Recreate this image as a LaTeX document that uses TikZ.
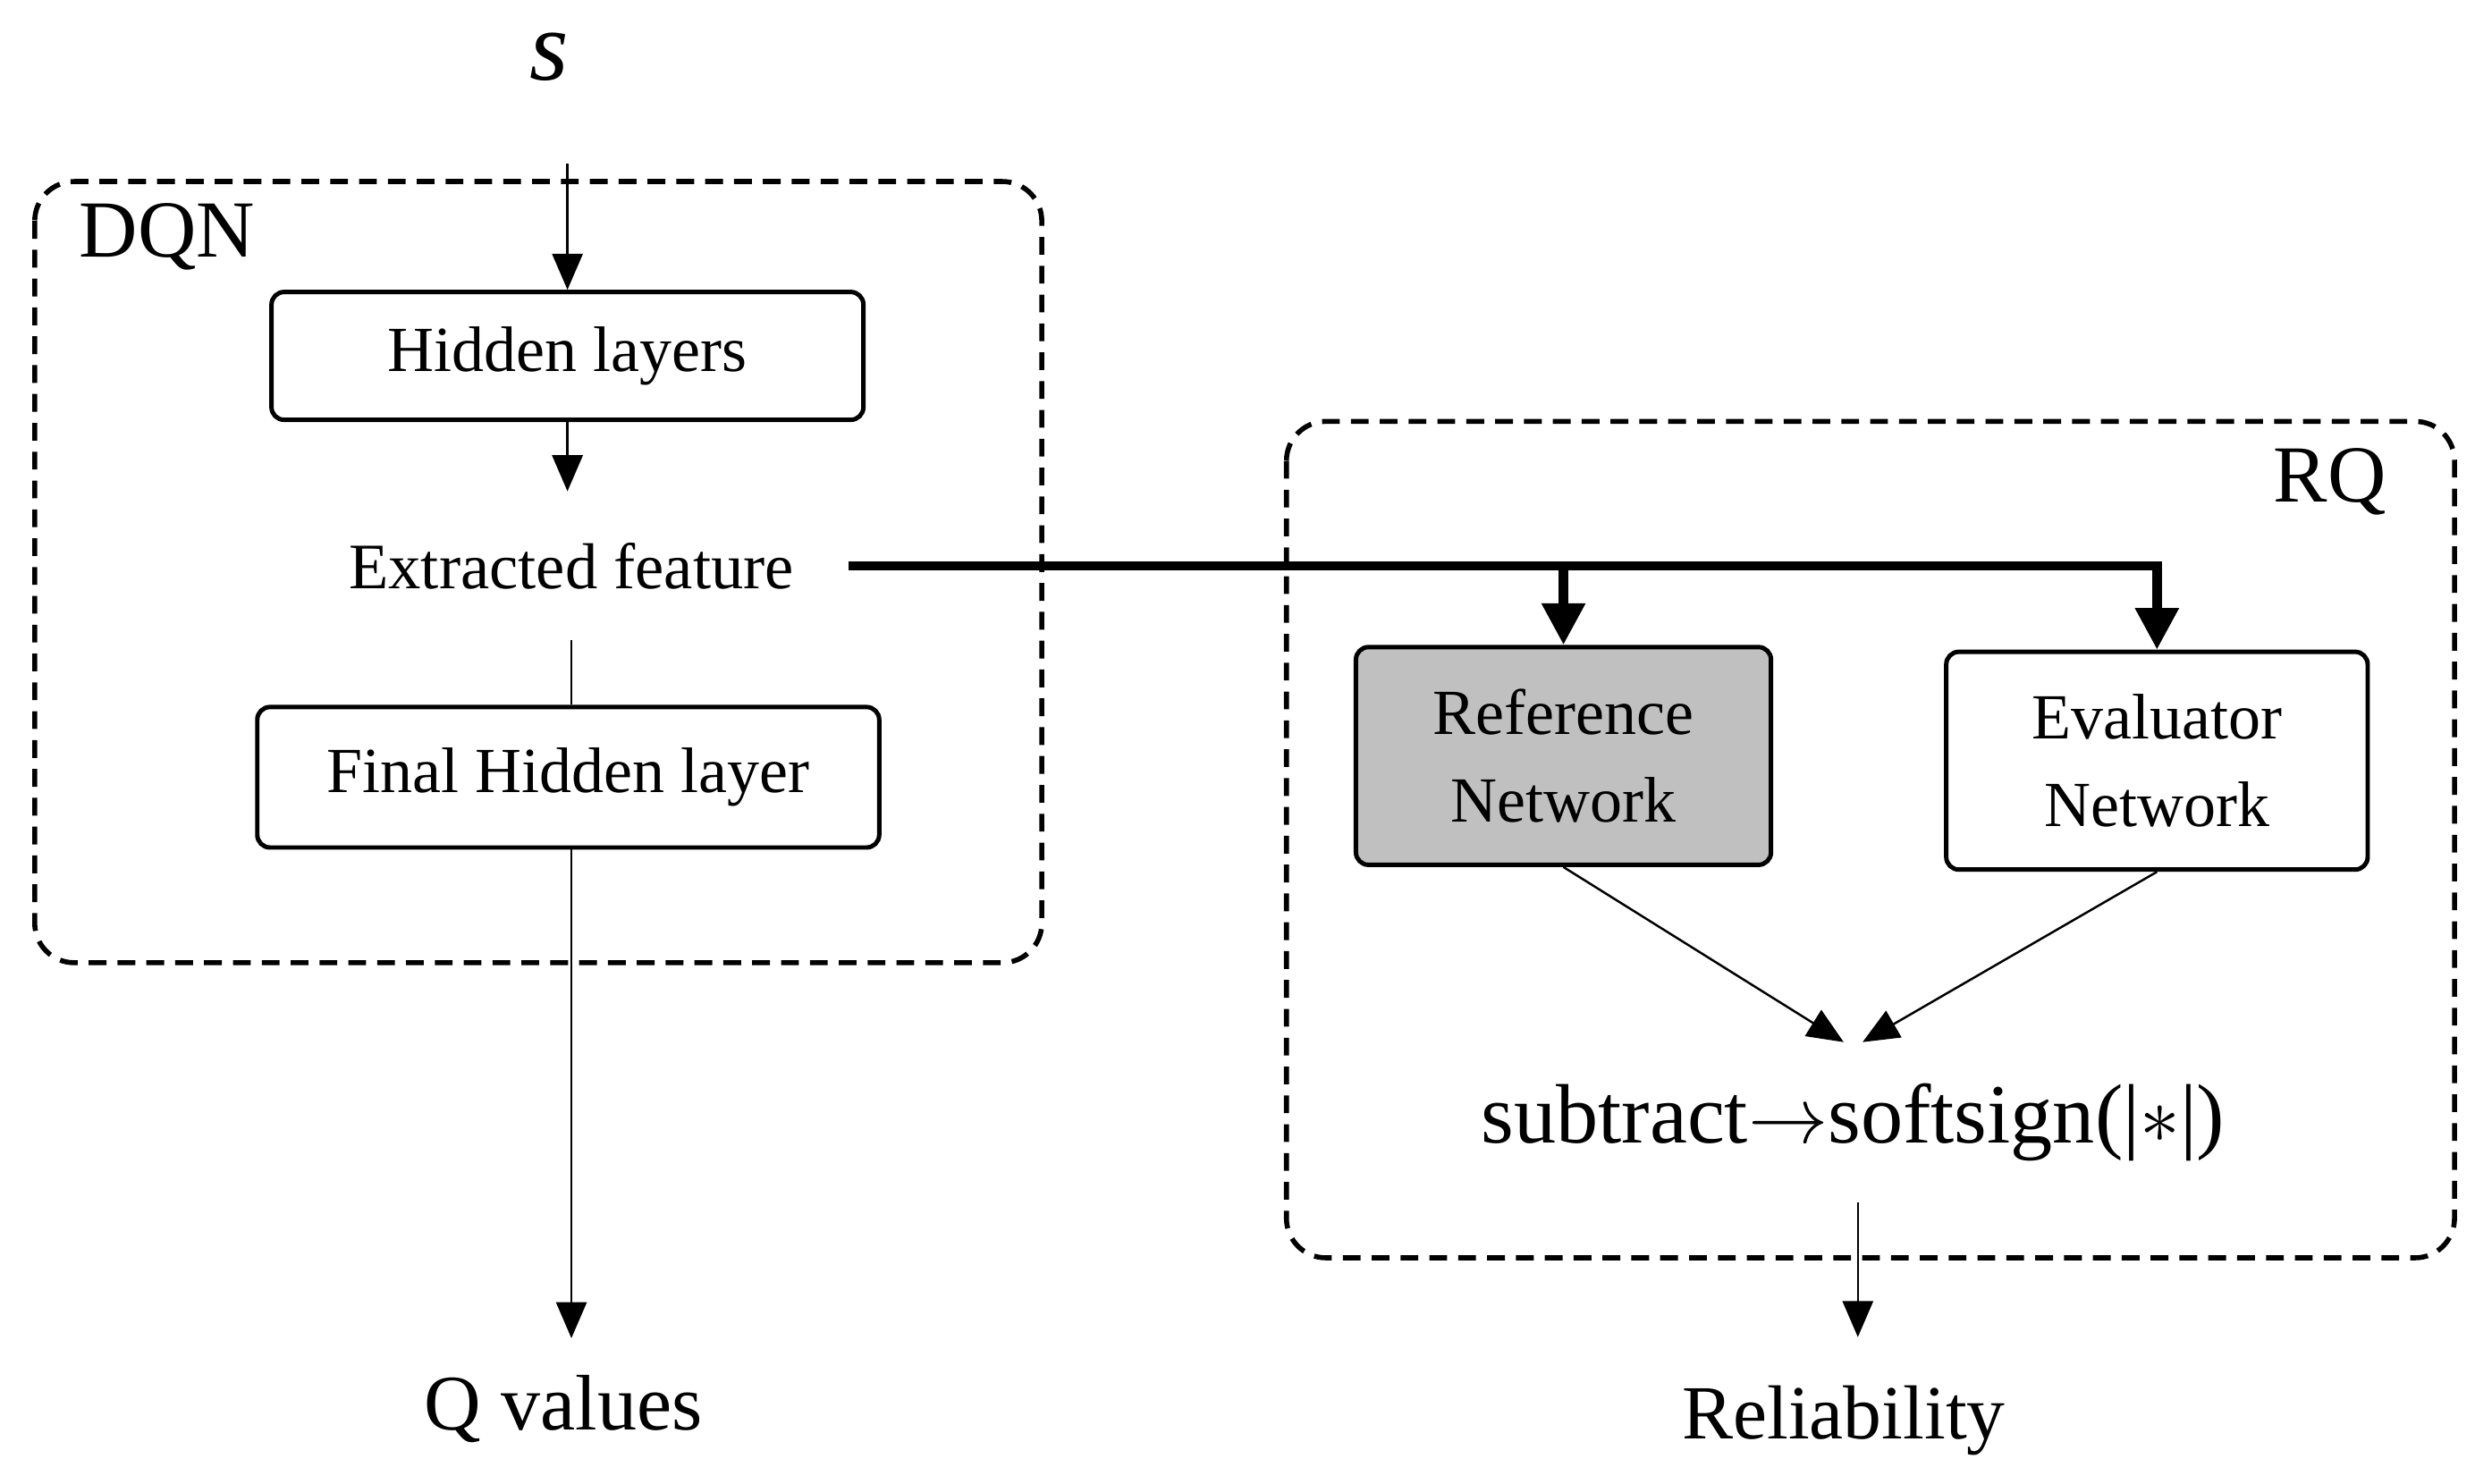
\documentclass[tikz,border=0pt]{standalone}
\usepackage{fontspec}
\setmainfont{Liberation Serif}
\usetikzlibrary{arrows.meta}
\begin{document}
\begin{tikzpicture}[layer/.style = {shape=rectangle, rounded corners=0.8mm, draw, line width=0.8pt, align=center,
                        font=\fontsize{11.6}{15.9}\selectfont, inner sep=0pt},
    frame/.style = {dash pattern=on 3.2pt off 2pt, line width=0.9pt, rounded corners=2.5mm},
    tag/.style = {font=\fontsize{14.6}{17}\selectfont, inner sep=0pt},
    arr/.style = {-{Triangle[width=5.5pt,length=6.5pt]}, line width=0.4pt},
    fatarr/.style = {-{Triangle[width=7.5pt,length=7.5pt]}, line width=1.7pt}]
    \useasboundingbox (0,0) rectangle (15.68,-9.40);
    % the two dashed frames
    \draw[frame] (0.22,-1.15) rectangle (6.60,-6.10);
    \draw[frame] (8.15,-2.67) rectangle (15.55,-7.97);
    \node[tag] (dqn) at (1.06,-1.50) {DQN};
    \node[tag] (rq) at (14.76,-3.05) {RQ};
    % DQN side
    \node[inner sep=0pt, font=\fontsize{18}{18}\selectfont\itshape] (s) at (3.48,-0.36) {s};
    \node[layer, minimum width=3.75cm, minimum height=0.81cm] (hidden) at (3.595,-2.255) {Hidden layers};
    \node[inner sep=0pt, minimum height=0.93cm, font=\fontsize{11.7}{14}\selectfont] (feature) at (3.62,-3.585) {Extracted feature};
    \node[layer, minimum width=3.94cm, minimum height=0.89cm] (final) at (3.60,-4.925) {Final Hidden layer};
    \node[tag, font=\fontsize{14.2}{17}\selectfont] (qval) at (3.57,-8.93) {Q values};
    % RQ side
    \node[layer, fill={rgb,255:red,192;green,192;blue,192}, minimum width=2.63cm, minimum height=1.38cm] (refnet) at (9.905,-4.79) {Reference\\Network};
    \node[layer, minimum width=2.67cm, minimum height=1.38cm] (evalnet) at (13.665,-4.82) {Evaluator\\Network};
    \node[inner sep=0pt, minimum height=1.0cm, font=\fontsize{15.2}{18}\selectfont] (formula) at (11.74,-7.11) {subtract$\rightarrow$softsign(|$\ast$|)};
    \node[tag, font=\fontsize{13.8}{17}\selectfont] (reliab) at (11.68,-9.00) {Reliability};
    % connectors
    \draw[arr, shorten <=5.2mm] (hidden.north |- s.south) -- (hidden.north);
    \draw[arr] (hidden.south) -- (hidden.south |- feature.north);
    \draw[line width=0.4pt] (feature.south) -- (feature.south |- final.north);
    \draw[arr, shorten >=2.3mm] (final.south -| feature.south) -- (feature.south |- qval.north);
    \draw[fatarr, shorten <=3.4mm] (feature.east) -| (evalnet.north);
    \draw[fatarr] (refnet.north |- feature.east) -- (refnet.north);
    \draw[arr] (refnet.south) -- ([xshift=-0.6mm]formula.north);
    \draw[arr] (evalnet.south) -- ([xshift=0.6mm]formula.north);
    \draw[arr, shorten >=3mm] ([xshift=0.3mm]formula.south) -- ([xshift=0.3mm]formula.south |- reliab.north);
\end{tikzpicture}
\end{document}
